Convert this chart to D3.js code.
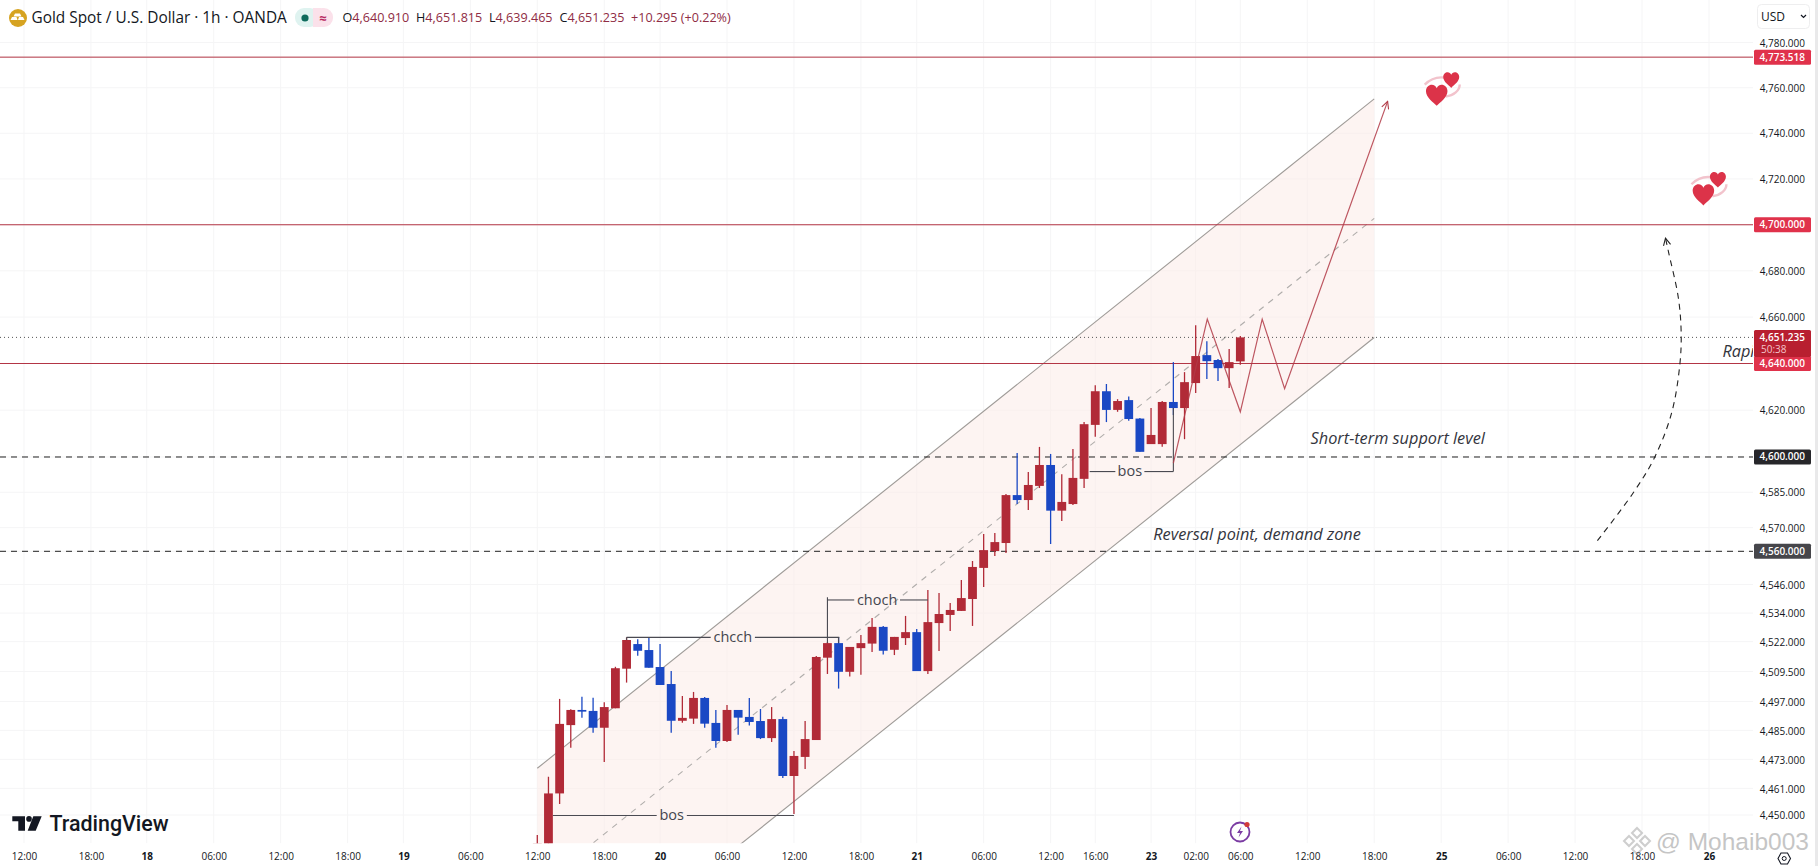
<!DOCTYPE html>
<html>
<head>
<meta charset="utf-8">
<title>Gold Spot / U.S. Dollar</title>
<script src="https://cdn.jsdelivr.net/npm/d3@7/dist/d3.min.js"></script>
<style>
html,body{margin:0;padding:0;background:#fff;overflow:hidden}
svg{display:block}
text{font-family:"Open Sans","Noto Sans",sans-serif}
</style>
</head>
<body>
<svg id="chart" width="1818" height="866"></svg>
<script>
// ---------- data ----------
const candleOpen  = [4437.6,4431.5,4458.9,4487.2,4493.5,4493.1,4486.1,4494.2,4510.7,4521.0,4518.5,4511.4,4504.3,4489.0,4489.9,4498.5,4488.1,4480.6,4493.5,4490.6,4488.9,4481.8,4489.7,4466.1,4474.0,4481.0,4515.3,4521.4,4509.4,4519.3,4521.2,4528.2,4518.6,4523.5,4526.0,4509.7,4529.8,4533.2,4534.9,4539.9,4553.0,4560.1,4563.5,4583.8,4581.7,4587.7,4596.6,4577.2,4580.0,4590.7,4613.7,4628.1,4620.1,4624.3,4616.4,4605.5,4605.5,4623.5,4620.9,4631.6,4643.6,4641.5,4638.0,4640.91];
const candleHigh  = [4441.8,4465.8,4498.1,4493.8,4499.0,4498.6,4496.7,4511.5,4523.8,4523.0,4523.8,4521.0,4509.7,4499.3,4501.0,4498.9,4493.5,4495.6,4493.5,4498.5,4493.9,4494.7,4490.7,4476.5,4488.9,4516.0,4521.9,4523.9,4519.8,4524.8,4531.9,4528.6,4524.0,4532.8,4527.3,4543.7,4542.4,4538.2,4547.9,4555.9,4567.3,4567.7,4584.3,4601.7,4593.6,4604.3,4601.3,4592.7,4603.4,4614.9,4630.7,4631.2,4624.7,4625.8,4616.6,4620.9,4623.9,4640.6,4636.3,4656.5,4649.6,4641.9,4646.2,4651.815];
const candleLow   = [4437.4,4431.0,4454.5,4477.8,4490.3,4484.0,4471.9,4494.2,4504.9,4516.1,4511.1,4503.9,4484.0,4488.2,4487.7,4486.1,4477.8,4480.2,4483.2,4487.0,4481.4,4480.2,4465.3,4450.4,4469.0,4481.0,4508.5,4502.4,4507.4,4508.2,4517.7,4516.6,4516.4,4520.6,4509.7,4508.5,4518.1,4526.5,4534.9,4528.6,4545.0,4558.0,4559.3,4580.0,4577.5,4586.8,4563.1,4572.8,4579.6,4586.8,4608.6,4614.9,4619.3,4615.5,4602.2,4605.5,4604.4,4617.9,4607.6,4627.3,4633.3,4632.5,4629.5,4639.465];
const candleClose = [4438.3,4458.9,4487.7,4493.5,4492.8,4486.1,4494.7,4510.9,4522.7,4518.2,4511.1,4503.9,4489.0,4490.2,4498.5,4487.8,4480.6,4493.5,4490.3,4488.5,4481.8,4489.7,4466.1,4474.4,4481.4,4515.6,4521.4,4509.4,4519.8,4521.4,4528.2,4518.2,4524.0,4526.0,4509.7,4530.2,4533.6,4535.3,4540.3,4553.4,4560.5,4563.9,4583.8,4581.7,4588.1,4596.6,4577.2,4580.9,4591.1,4614.0,4628.1,4620.1,4623.9,4616.2,4602.2,4609.4,4623.5,4620.9,4632.0,4643.2,4641.0,4638.0,4640.6,4651.235];

const priceTicks = [4780,4760,4740,4720,4680,4660,4620,4585,4570,4546,4534,4522,4509.5,4497,4485,4473,4461,4450];
const timeTickBars   = [-46,-40,-35,-29,-23,-17,-12,-6,0,6,11,17,23,29,34,40,46,50,55,59,63,69,75,81,87,93,99,105];
const timeTickLabels = ["12:00","18:00","18","06:00","12:00","18:00","19","06:00","12:00","18:00","20","06:00","12:00","18:00","21","06:00","12:00","16:00","23","02:00","06:00","12:00","18:00","25","06:00","12:00","18:00","26"];
const dayLabels = ["18","19","20","21","23","25","26"];

const redLevels = [4773.518,4700,4640];
const blackLevels = [4600,4560];
const lastPrice = 4651.235;

const channelBars = [0,75];
const channelUpper = [4469.3,4755.1];
const channelMiddle = [4420.2,4702.8];
const channelLower = [4371.7,4651.2];

const projBars   = [57,60.04,63,64.96,66.97,76.2];
const projPrices = [4597.4,4659.1,4619.3,4659.1,4629.2,4754.0];

const curveBars   = [95,98.2,100.1,101.65,102.4,102.5,102.24,101.4,101.1];
const curvePrices = [4564.5,4584.7,4599.6,4618.8,4640.2,4654.4,4668.7,4687.6,4694.2];

// structure lines: [bar1, price1, bar2, price2]
const structureLines = [
  [1.4,4449.8,10.7,4449.8],[13.4,4449.8,23,4449.8],
  [8,4523.8,15.54,4523.8],[19.5,4523.8,27.06,4523.8],[8,4523.8,8,4522.7],[27,4523.8,27,4521.4],
  [26,4539.5,28.4,4539.5],[32.5,4539.5,35,4539.5],[26,4540.6,26,4521.4],
  [49.5,4593.8,51.8,4593.8],[54.4,4593.8,57,4593.8],[57,4593.8,57,4620.9]
];
const structureTexts = ["bos","chcch","choch","bos"];
const structureTextBars = [12.05,17.52,30.45,53.1];
const structureTextPrices = [4449.8,4523.8,4539.5,4593.8];

const noteTexts = ["Short-term support level","Reversal point, demand zone","Rapi"];
const noteBars = [69.3,55.2,106.2];
const notePrices = [4607.9,4567.0,4645.0];

const heartBars = [80.6,104.5];
const heartPrices = [4757.0,4713.3];

const ohlcLabels = ["O","H","L","C"];
const ohlcValues = ["4,640.910","4,651.815","4,639.465","4,651.235"];

// ---------- layout ----------
const W = 1818, H = 866, paneR = 1753, paneB = 843.5;
const svg = d3.select("#chart");
const x = d3.scaleLinear().domain([0,105]).range([537.3,1709]);
const y = d3.scaleLog().domain([4450,4780]).range([815,42.5]);
const RED = "#b12a37", BLUE = "#1a48c4", LINE = "#b23a46";

svg.append("rect").attr("width",W).attr("height",H).attr("fill","#fff");
const defs = svg.append("defs");
defs.append("clipPath").attr("id","pane").append("rect").attr("width",paneR).attr("height",paneB);
const arrowDefs = [["arrRed",LINE],["arrBlack","#222"]];
arrowDefs.forEach(([id,c])=>{
  defs.append("marker").attr("id",id).attr("viewBox","0 0 10 10").attr("refX",9).attr("refY",5)
    .attr("markerWidth",9).attr("markerHeight",9).attr("markerUnits","userSpaceOnUse").attr("orient","auto")
    .append("path").attr("d","M1,1L9,5L1,9").attr("fill","none").attr("stroke",c).attr("stroke-width",1.2);
});

const pane = svg.append("g").attr("clip-path","url(#pane)");

// grid
const gridPrices = priceTicks.concat(blackLevels,redLevels);
pane.append("g").selectAll("line").data(gridPrices).join("line")
  .attr("x1",0).attr("x2",paneR).attr("y1",d=>y(d)).attr("y2",d=>y(d))
  .attr("stroke","#f5f5f6").attr("stroke-width",1);
pane.append("g").selectAll("line").data(timeTickBars).join("line")
  .attr("x1",d=>x(d)).attr("x2",d=>x(d)).attr("y1",0).attr("y2",paneB)
  .attr("stroke","#f5f5f6").attr("stroke-width",1);

// channel
const area = d3.area().x((d,i)=>x(channelBars[i])).y0((d,i)=>y(channelLower[i])).y1((d,i)=>y(channelUpper[i]));
pane.append("path").attr("d",area(channelBars)).attr("fill","#fcebe8").attr("fill-opacity",.55);
const chLine = d3.line().x((d,i)=>x(channelBars[i])).y(d=>y(d));
pane.append("path").attr("d",chLine(channelUpper)).attr("fill","none").attr("stroke","#9f9b98").attr("stroke-width",1.1);
pane.append("path").attr("d",chLine(channelLower)).attr("fill","none").attr("stroke","#9f9b98").attr("stroke-width",1.1);
pane.append("path").attr("d",chLine(channelMiddle)).attr("fill","none").attr("stroke","#b0adab").attr("stroke-width",1.1).attr("stroke-dasharray","6 6");

// horizontal levels
pane.append("g").selectAll("line").data(redLevels).join("line")
  .attr("x1",0).attr("x2",paneR).attr("y1",d=>y(d)).attr("y2",d=>y(d))
  .attr("stroke","#b33545").attr("stroke-width",1);
pane.append("g").selectAll("line").data(blackLevels).join("line")
  .attr("x1",0).attr("x2",paneR).attr("y1",d=>y(d)).attr("y2",d=>y(d))
  .attr("stroke","#222").attr("stroke-width",1).attr("stroke-dasharray","6 5");
pane.append("line").attr("x1",0).attr("x2",paneR).attr("y1",y(lastPrice)).attr("y2",y(lastPrice))
  .attr("stroke","#555").attr("stroke-width",1).attr("stroke-dasharray","1 3");

// candles
const candleIdx = d3.range(candleOpen.length);
const isUp = i => candleClose[i] >= candleOpen[i];
const candles = pane.append("g").selectAll("g").data(candleIdx).join("g");
candles.append("line")
  .attr("x1",i=>x(i)).attr("x2",i=>x(i))
  .attr("y1",i=>y(candleHigh[i])).attr("y2",i=>y(candleLow[i]))
  .attr("stroke",i=>isUp(i)?RED:BLUE).attr("stroke-width",1.3);
candles.append("rect")
  .attr("x",i=>x(i)-4.4).attr("width",8.8)
  .attr("y",i=>y(Math.max(candleOpen[i],candleClose[i])))
  .attr("height",i=>Math.max(1.5,y(Math.min(candleOpen[i],candleClose[i]))-y(Math.max(candleOpen[i],candleClose[i]))))
  .attr("fill",i=>isUp(i)?RED:BLUE);

// structure lines and labels
pane.append("g").selectAll("line").data(structureLines).join("line")
  .attr("x1",d=>x(d[0])).attr("y1",d=>y(d[1])).attr("x2",d=>x(d[2])).attr("y2",d=>y(d[3]))
  .attr("stroke","#4a4a52").attr("stroke-width",1.1);
pane.append("g").selectAll("text").data(structureTexts).join("text")
  .attr("x",(d,i)=>x(structureTextBars[i])).attr("y",(d,i)=>y(structureTextPrices[i]))
  .attr("dy","0.32em").attr("text-anchor","middle").attr("font-size",14.5).attr("fill","#44464e").text(d=>d);

// projected path
pane.append("path")
  .attr("d",d3.line().x((d,i)=>x(projBars[i])).y(d=>y(d))(projPrices))
  .attr("fill","none").attr("stroke",LINE).attr("stroke-width",1.2).attr("stroke-opacity",.85)
  .attr("marker-end","url(#arrRed)");

// curved dashed arrow
pane.append("path")
  .attr("d",d3.line().x((d,i)=>x(curveBars[i])).y(d=>y(d)).curve(d3.curveCatmullRom)(curvePrices))
  .attr("fill","none").attr("stroke","#222").attr("stroke-width",1.1).attr("stroke-dasharray","6 5")
  .attr("marker-end","url(#arrBlack)");

// notes
pane.append("g").selectAll("text").data(noteTexts).join("text")
  .attr("x",(d,i)=>x(noteBars[i])).attr("y",(d,i)=>y(notePrices[i]))
  .attr("dy","0.32em").attr("font-size",16.3).attr("font-style","italic").attr("fill","#33353d").text(d=>d);

// hearts
const HEART = "M0,5.2C-1.4,3.6-5,1.4-5,-1.6C-5,-3.5-3.6,-4.6-2.3,-4.6C-1.2,-4.6-.4,-4-.0,-3C.4,-4,1.2,-4.6,2.3,-4.6C3.6,-4.6,5,-3.5,5,-1.6C5,1.4,1.4,3.6,0,5.2Z";
const hearts = pane.append("g").selectAll("g").data(heartBars).join("g")
  .attr("transform",(d,i)=>`translate(${x(d)},${y(heartPrices[i])})`);
hearts.append("path").attr("d","M-12,-10C-6,-16,1,-18,8,-17").attr("fill","none").attr("stroke","#f2c3cc").attr("stroke-width",2.4);
hearts.append("path").attr("d","M23,-10C23,-4,17,1,9,2").attr("fill","none").attr("stroke","#f2c3cc").attr("stroke-width",2.4);
hearts.append("path").attr("d",HEART).attr("fill","#dc3349").attr("transform","scale(2.15)");
hearts.append("path").attr("d",HEART).attr("fill","#dc3349").attr("transform","translate(14.5,-15) scale(1.6)");

// axis backgrounds
svg.append("rect").attr("x",paneR).attr("y",0).attr("width",W-paneR).attr("height",H).attr("fill","#fff");
svg.append("rect").attr("x",0).attr("y",paneB).attr("width",W).attr("height",H-paneB).attr("fill","#fff");
svg.append("rect").attr("x",1815).attr("y",0).attr("width",3).attr("height",H).attr("fill","#e9e9ea");

// axes
const AXIS_FONT = 10;
const yAxis = d3.axisRight(y).tickValues(priceTicks).tickSize(0).tickPadding(0).tickFormat(d3.format(",.3f"));
const yG = svg.append("g").attr("transform","translate(1805,0.5)").call(yAxis);
yG.select(".domain").remove();
yG.selectAll("text").attr("text-anchor","end").attr("font-size",AXIS_FONT).attr("fill","#131722").style("font-family",'"Open Sans"').attr("x",0);

const barLabel = new Map(timeTickBars.map((b,i)=>[b,timeTickLabels[i]]));
const xAxis = d3.axisBottom(x).tickValues(timeTickBars).tickSize(0).tickPadding(0).tickFormat(d=>barLabel.get(d));
const xG = svg.append("g").attr("transform","translate(0,852.5)").call(xAxis);
xG.select(".domain").remove();
xG.selectAll("text").attr("font-size",AXIS_FONT).attr("fill","#131722").style("font-family",'"Open Sans"')
  .attr("font-weight",d=>dayLabels.includes(barLabel.get(d))?700:400);

// price tags
const tagFmt = d3.format(",.3f");
function tag(val,fill){
  const cy = y(val);
  svg.append("rect").attr("x",1754).attr("y",cy-7.5).attr("width",57).attr("height",15).attr("rx",1.5).attr("fill",fill);
  svg.append("text").attr("x",1805).attr("y",cy).attr("dy","0.34em").attr("text-anchor","end")
    .attr("font-size",AXIS_FONT).attr("fill","#fff").attr("font-weight",600).text(tagFmt(val));
}
tag(4773.518,"#e0324b");
tag(4700,"#e0324b");
tag(4640,"#e0324b");
tag(4600,"#26262a");
tag(4560,"#46464b");
const ly = y(lastPrice);
svg.append("rect").attr("x",1754).attr("y",ly-7.5).attr("width",57).attr("height",27).attr("rx",1.5).attr("fill","#b81f30");
svg.append("text").attr("x",1805).attr("y",ly).attr("dy","0.34em").attr("text-anchor","end")
  .attr("font-size",AXIS_FONT).attr("fill","#fff").attr("font-weight",600).text(tagFmt(lastPrice));
svg.append("text").attr("x",1761).attr("y",ly+12).attr("dy","0.34em").attr("font-size",AXIS_FONT).attr("fill","#f3c4c9").text("50:38");

// USD box
svg.append("rect").attr("x",1757.5).attr("y",4.5).attr("width",52).attr("height",24).attr("rx",4).attr("fill","#fff").attr("stroke","#eeeeef");
svg.append("text").attr("x",1761).attr("y",16.5).attr("dy","0.35em").attr("font-size",12).attr("fill","#131722").text("USD");
svg.append("path").attr("d","M1801,15L1803.5,17.5L1806,15").attr("fill","none").attr("stroke","#131722").attr("stroke-width",1.2);

// header
const head = svg.append("g");
head.append("circle").attr("cx",18).attr("cy",18).attr("r",9).attr("fill","#d6a321");
head.append("path").attr("d","M15.5,13.5h5l1.5,3h-8zM11,20l1.5-3h4.5l1,3zM18.5,20l1-3h4l1.5,3z").attr("fill","#fff").attr("transform","translate(-.5,0) scale(1)");
head.append("text").attr("x",31.5).attr("y",18).attr("dy","0.35em").attr("font-size",15.4).attr("fill","#131722")
  .text("Gold Spot / U.S. Dollar · 1h · OANDA");
head.append("rect").attr("x",295).attr("y",8).attr("width",24).attr("height",19).attr("rx",9).attr("fill","#dff3f0");
head.append("rect").attr("x",313).attr("y",8).attr("width",20).attr("height",19).attr("rx",9).attr("fill","#fbe1ea");
head.append("rect").attr("x",313).attr("y",8).attr("width",8).attr("height",19).attr("fill","#fbe1ea");
head.append("circle").attr("cx",305).attr("cy",18).attr("r",3.6).attr("fill","#0e6b5c");
head.append("text").attr("x",323).attr("y",18).attr("dy","0.35em").attr("text-anchor","middle").attr("font-size",13).attr("font-weight",700).attr("fill","#b8275f").text("≈");
const ohlcX = [342.5,416,489,559.5];
ohlcLabels.forEach((l,i)=>{
  const t = head.append("text").attr("x",ohlcX[i]).attr("y",18).attr("dy","0.35em").attr("font-size",12.6);
  t.append("tspan").attr("fill","#131722").text(l);
  t.append("tspan").attr("fill","#8f2c44").text(ohlcValues[i]);
});
head.append("text").attr("x",631).attr("y",18).attr("dy","0.35em").attr("font-size",12.6).attr("fill","#8f2c44").text("+10.295 (+0.22%)");

// TradingView logo
const tv = svg.append("g");
tv.append("path").attr("d","M12.3,816.3H25V830.7H18.3V821.3H12.3Z M33.3,816.3H41.7L35.7,830.7H27.7Z").attr("fill","#131722");
tv.append("circle").attr("cx",29).attr("cy",818.9).attr("r",2.8).attr("fill","#131722");
tv.append("text").attr("x",49.5).attr("y",824).attr("dy","0.35em").attr("font-size",21.4).attr("font-weight",500).style("font-family",'"Roboto"').attr("fill","#131722").text("TradingView");

// lightning icon
const bolt = svg.append("g").attr("transform","translate(1240,832)");
bolt.append("circle").attr("r",9.5).attr("fill","#fff").attr("stroke","#7b3ca3").attr("stroke-width",1.8);
bolt.append("path").attr("d","M1.5,-5.5L-3,1H0L-1.5,5.5L3,-1H0Z").attr("fill","#7b3ca3");
bolt.append("circle").attr("cx",7).attr("cy",-7.5).attr("r",2.6).attr("fill","#d23b3b");

// settings hexagon
svg.append("path").attr("d","M1778,858.5L1781,853H1787.5L1790.5,858.5L1787.5,864H1781Z").attr("fill","none").attr("stroke","#131722").attr("stroke-width",1.1);
svg.append("circle").attr("cx",1784.2).attr("cy",858.5).attr("r",2).attr("fill","none").attr("stroke","#131722").attr("stroke-width",1);

// watermark
const wm = svg.append("g").attr("opacity",.42);
[[1637,833],[1629,841],[1645,841],[1637,849]].forEach(p=>{
  wm.append("path").attr("d",`M${p[0]},${p[1]-5}l5,5l-5,5l-5,-5z`).attr("fill","none").attr("stroke","#8c8c8c").attr("stroke-width",2);
});
wm.append("text").attr("x",1656).attr("y",850).attr("font-size",24.5).style("font-family",'"Liberation Sans"').attr("fill","#777").text("@ Mohaib003");
</script>
</body>
</html>
